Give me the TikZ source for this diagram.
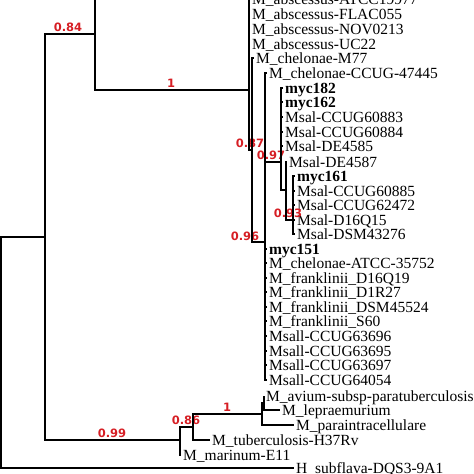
\documentclass[tikz,border=0pt]{standalone}
\usepackage{fontspec}
\setmainfont{Liberation Serif}
\newfontfamily\suppfont{DejaVu Sans}
\usetikzlibrary{positioning}
\definecolor{suppred}{RGB}{214,30,36}
\tikzset{
	leaf/.style={anchor=west, inner xsep=2pt, inner ysep=0pt, text height=10.5pt, text depth=0.5pt, font=\fontsize{15.5}{16}\selectfont},
	myc/.style={leaf, font=\fontsize{15.5}{16}\selectfont\bfseries},
	supp/.style={text=suppred, inner sep=0pt, font=\suppfont\bfseries\fontsize{11.5}{11.5}\selectfont},
	branch/.style={line width=1.6pt}
}

\begin{document}
\begin{tikzpicture}[x=1pt,y=-1pt]
	\useasboundingbox (0,0) rectangle (474,474);
	\clip (0,0) rectangle (474,474);
	% inner nodes
	\coordinate (r0) at (1,353);
	\coordinate (n1) at (45,237);
	\coordinate (n2) at (95,34);
	\coordinate (ntop) at (95,-20);
	\coordinate (n3) at (249,90);
	\coordinate (nab) at (249,22);
	\coordinate (n4) at (252,150);
	\coordinate (n5) at (265,242);
	\coordinate (n6) at (281,162);
	\coordinate (n7) at (286,190);
	\coordinate (n8) at (293,220);
	\coordinate (nmtb) at (180,440);
	\coordinate (n86) at (193,427);
	\coordinate (nmac) at (262,414);
	\coordinate (nal) at (264,403);
	% leaves
	\node[leaf] (abs0) at (250,-1) {M\_abscessus-ATCC19977};
	\node[leaf] (abs1) at (250,14) {M\_abscessus-FLAC055};
	\node[leaf] (abs2) at (250,29) {M\_abscessus-NOV0213};
	\node[leaf] (abs3) at (250,44) {M\_abscessus-UC22};
	\node[leaf] (chel1) at (254,58) {M\_chelonae-M77};
	\node[leaf] (chel2) at (267,73) {M\_chelonae-CCUG-47445};
	\node[myc] (m182) at (283,88) {myc182};
	\node[myc] (m162) at (283,102) {myc162};
	\node[leaf] (s883) at (283,117) {Msal-CCUG60883};
	\node[leaf] (s884) at (283,132) {Msal-CCUG60884};
	\node[leaf] (s4585) at (283,146) {Msal-DE4585};
	\node[leaf] (s4587) at (287,162) {Msal-DE4587};
	\node[myc] (m161) at (295,176) {myc161};
	\node[leaf] (s885) at (295,191) {Msal-CCUG60885};
	\node[leaf] (s472) at (295,205) {Msal-CCUG62472};
	\node[leaf] (s615) at (295,220) {Msal-D16Q15};
	\node[leaf] (s276) at (295,234) {Msal-DSM43276};
	\node[myc] (m151) at (267,249) {myc151};
	\node[leaf] (chel3) at (267,263) {M\_chelonae-ATCC-35752};
	\node[leaf] (fr1) at (267,278) {M\_franklinii\_D16Q19};
	\node[leaf] (fr2) at (267,292) {M\_franklinii\_D1R27};
	\node[leaf] (fr3) at (267,307) {M\_franklinii\_DSM45524};
	\node[leaf] (fr4) at (267,321) {M\_franklinii\_S60};
	\node[leaf] (ms1) at (267,336) {Msall-CCUG63696};
	\node[leaf] (ms2) at (267,351) {Msall-CCUG63695};
	\node[leaf] (ms3) at (267,365) {Msall-CCUG63697};
	\node[leaf] (ms4) at (267,380) {Msall-CCUG64054};
	\node[leaf] (avium) at (264,396) {M\_avium-subsp-paratuberculosis};
	\node[leaf] (lepr) at (280,410) {M\_lepraemurium};
	\node[leaf] (parint) at (294,425) {M\_paraintracellulare};
	\node[leaf] (mtb) at (210,440) {M\_tuberculosis-H37Rv};
	\node[leaf] (mari) at (181,455) {M\_marinum-E11};
	\node[leaf] (hsub) at (294,468) {H\_subflava-DQS3-9A1};
	% support values
	\node[supp] (s1) at (68,27) {0.84};
	\node[supp] (s2) at (171,83) {1};
	\node[supp] (s3) at (250,143) {0.87};
	\node[supp] (s4) at (271,155) {0.97};
	\node[supp] (s5) at (288,213) {0.93};
	\node[supp] (s6) at (245,236) {0.96};
	\node[supp] (s7) at (112,433) {0.99};
	\node[supp] (s8) at (186,420) {0.86};
	\node[supp] (s9) at (227,407) {1};
	% branches
	\draw[branch] (r0) |- (n1);
	\draw[branch] (r0) |- (hsub.west);
	\draw[branch] (n1) |- (n2);
	\draw[branch] (n1) |- (nmtb);
	\draw[branch] (n2) -- (ntop);
	\draw[branch] (n2) |- (n3);
	\draw[branch] (n3) |- (nab);
	\draw[branch] (n3) |- (n4);
	\foreach \l in {abs0,abs1,abs2,abs3}
		\draw[branch] (nab) |- (\l.west);
	\draw[branch] (n4) |- (chel1.west);
	\draw[branch] (n4) |- (n5);
	\foreach \l in {chel2,m151,chel3,fr1,fr2,fr3,fr4,ms1,ms2,ms3,ms4}
		\draw[branch] (n5) |- (\l.west);
	\draw[branch] (n5) |- (n6);
	\foreach \l in {m182,m162,s883,s884,s4585}
		\draw[branch] (n6) |- (\l.west);
	\draw[branch] (n6) |- (n7);
	\draw[branch] (n7) |- (s4587.west);
	\draw[branch] (n7) |- (n8);
	\foreach \l in {m161,s885,s472,s615,s276}
		\draw[branch] (n8) |- (\l.west);
	\draw[branch] (nmtb) |- (n86);
	\draw[branch] (nmtb) |- (mari.west);
	\draw[branch] (n86) |- (nmac);
	\draw[branch] (n86) |- (mtb.west);
	\draw[branch] (nmac) |- (nal);
	\draw[branch] (nmac) |- (parint.west);
	\draw[branch] (nal) |- (avium.west);
	\draw[branch] (nal) |- (lepr.west);
\end{tikzpicture}
\end{document}
